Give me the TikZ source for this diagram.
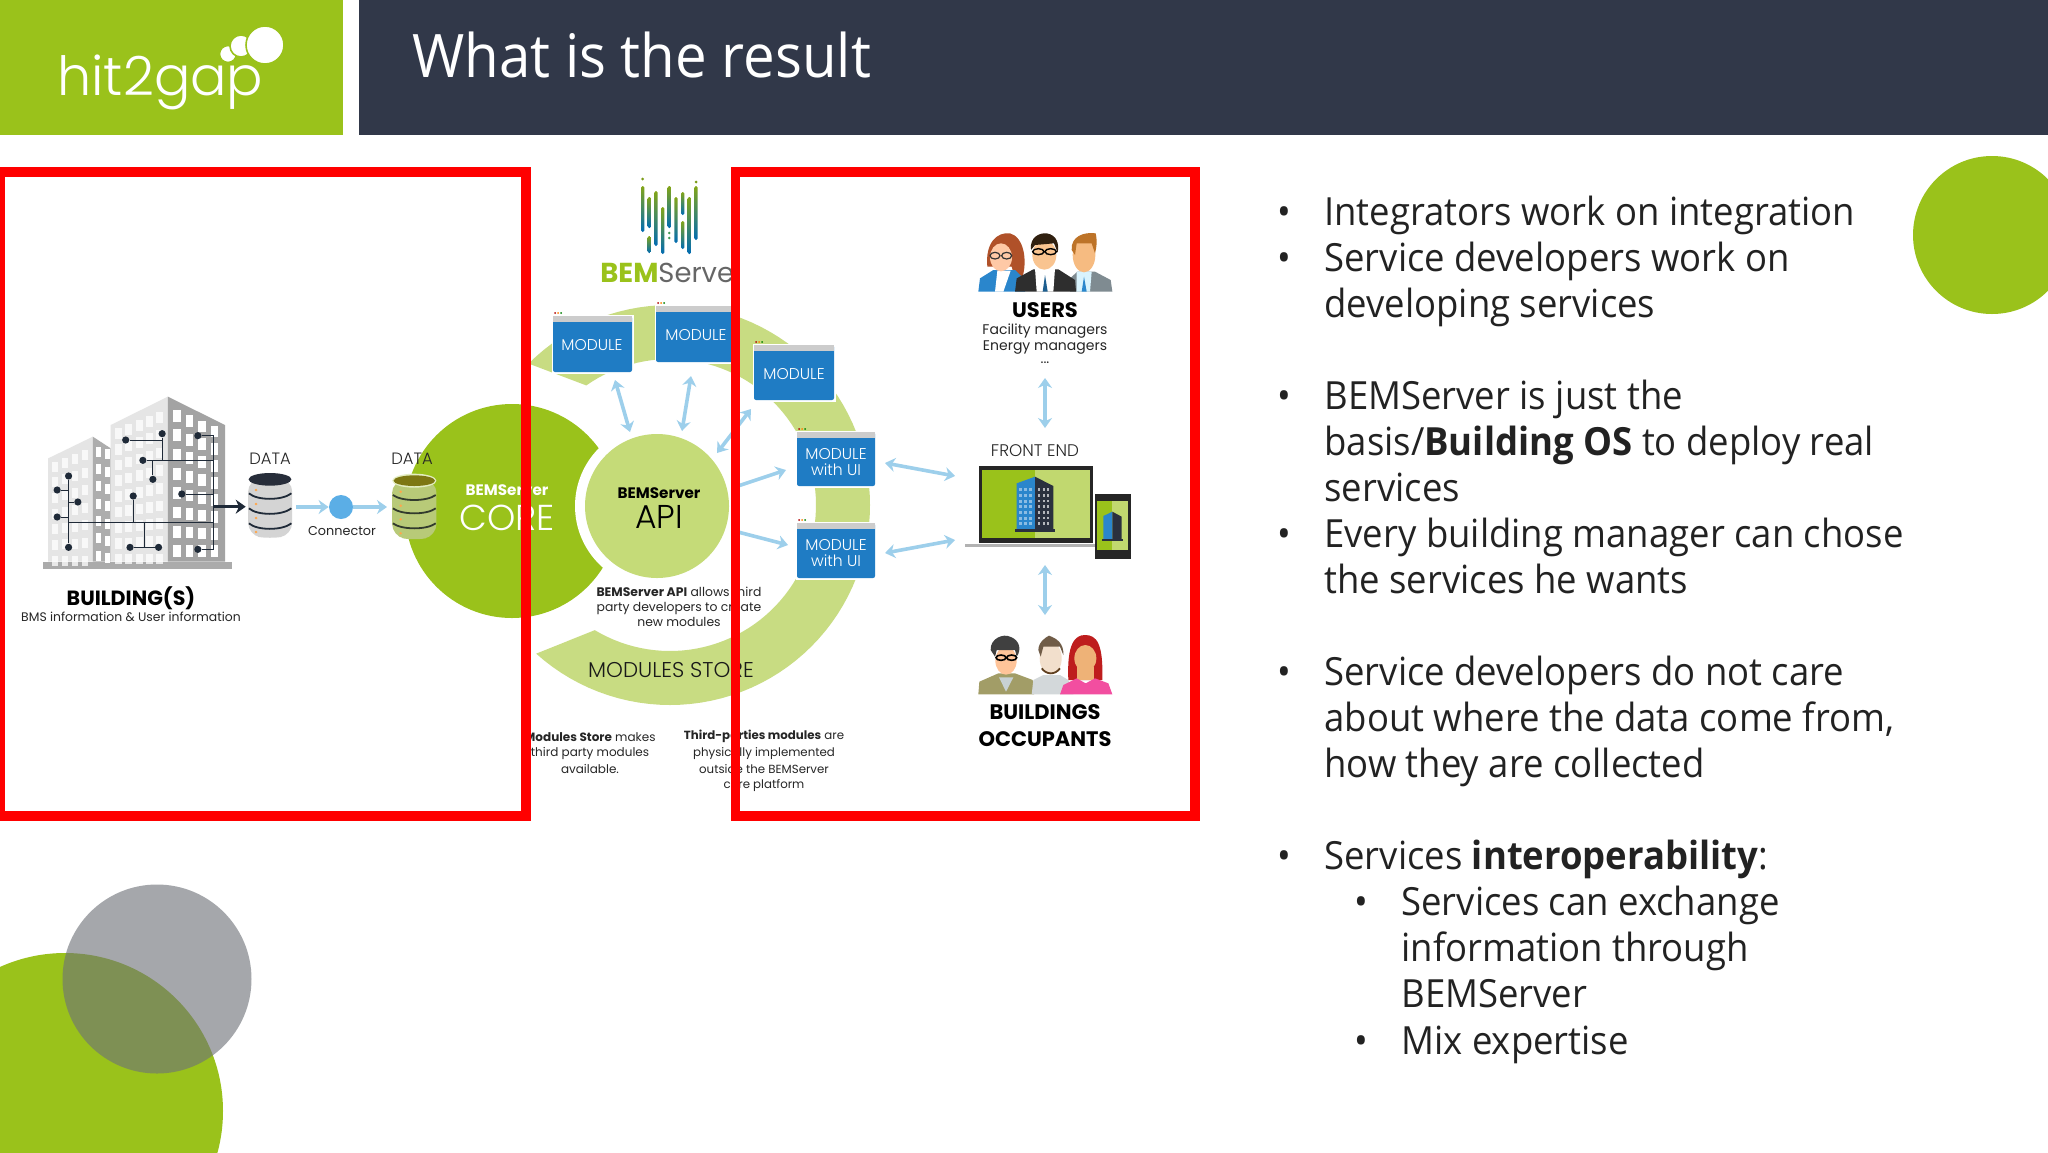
\documentclass[tikz,border=0pt]{standalone}
\usepackage{fontspec}
\usetikzlibrary{arrows.meta,shapes.geometric}
\setmainfont{Open Sans}
\newfontfamily\gothic{Poppins}
\newfontfamily\gothiclight{Poppins Light}
\newfontfamily\slidefont{Open Sans}[FakeStretch=0.94]
\definecolor{hgreen}{HTML}{9AC21B}
\definecolor{hdark}{HTML}{313849}
\definecolor{ringg}{HTML}{C8DC82}
\definecolor{apig}{HTML}{C5DB78}
\definecolor{modblue}{HTML}{1F7CC4}
\definecolor{arrowb}{HTML}{9DCFEB}
\definecolor{dotdark}{HTML}{1F2A38}
\definecolor{redbox}{HTML}{FF0000}
\definecolor{txt}{HTML}{222222}
\definecolor{greydisc}{HTML}{6E7278}
\definecolor{connblue}{HTML}{5BAEE6}
\definecolor{towerblue}{HTML}{2A86CC}
\newcommand{\fs}[1]{\fontsize{#1}{#1}\selectfont}
\tikzset{
  bodytext/.style={anchor=base west,inner sep=0pt,text=txt,font=\slidefont\fs{19.4}},
  bulletmark/.style={anchor=base,inner sep=0pt,text=txt,font=\slidefont\fs{19.4}},
  figtext/.style={inner sep=0pt,align=center,text=black!85,font=\gothic\fs{6.2}},
  modtext/.style={inner sep=0pt,align=center,text=white,font=\gothiclight\fs{7.8}},
  biarrow/.style={draw=arrowb,line width=1.8pt,{Stealth[length=5pt,width=7pt]}-{Stealth[length=5pt,width=7pt]}},
  onearrow/.style={draw=arrowb,line width=1.8pt,-{Stealth[length=5pt,width=7pt]}},
  cdot/.style={circle,fill=dotdark,inner sep=0pt,minimum size=3.6pt},
  cwire/.style={draw=dotdark,line width=0.45pt},
  redframe/.style={draw=redbox,line width=4.8pt,miter limit=10},
}
% module window: x0,y0,x1,y1
\newcommand{\modwin}[4]{%
  \fill[white] (#1-1.5,#2-1.5) rectangle (#3+1.5,#4+1.5);
  \fill[modblue,rounded corners=1pt] (#1,#2) rectangle (#3,#4);
  \fill[black!20] (#1,#2) rectangle (#3,#2+6);
  \fill[red!70!black] (#1+2,#2-3) circle[radius=1];
  \fill[orange] (#1+5,#2-3) circle[radius=1];
  \fill[green!50!black] (#1+8,#2-3) circle[radius=1];
}
% logo bar: x,y0,y1
\newcommand{\lbar}[3]{\shade[top color=hgreen!85!black,bottom color=cyan!60!blue!70!black,rounded corners=0.7pt] (#1-1.6,#2) rectangle (#1+1.6,#3);}
\begin{document}
\begin{tikzpicture}[x=0.5pt,y=-0.5pt]
\useasboundingbox (0,0) rectangle (2048,1152);
\clip (0,0) rectangle (2048,1152);
\fill[white] (0,0) rectangle (2048,1152);
% header
\fill[hgreen] (0,0) rectangle (343,135);
\fill[hdark] (359,0) rectangle (2048,135);
\node[anchor=base west,inner sep=0pt,text=white,font=\slidefont\fs{30}] (title) at (412,77) {What is the result};
% logo
\node[anchor=base west,inner sep=0pt,text=white,font=\gothiclight\fs{27}] (logo) at (57,95) {hit2gap};
\fill[white,draw=hgreen,line width=0.8pt] (228,54) circle[radius=8.5];
\fill[white,draw=hgreen,line width=0.8pt] (241,46) circle[radius=11];
\fill[white,draw=hgreen,line width=0.8pt] (265,45) circle[radius=19];
% decorative circles
\fill[hgreen] (1992,235) circle[radius=79];
\fill[hgreen] (65,1111) circle[radius=158];
\fill[greydisc,opacity=0.62] (157,979) circle[radius=94.5];
% core circle and ring
\fill[hgreen] (512,511) circle[radius=107];
\fill[ringg] plot[domain=-135:132,samples=90] ({670+200*cos(\x)},{505+200*sin(\x)}) -- plot[domain=121:-125,samples=90] ({670+146*cos(\x)},{505+146*sin(\x)}) -- cycle;
\fill[white] (657,506) circle[radius=82];
\fill[apig] (657,506) circle[radius=72];
% ===== building (zoom units)
\begin{scope}[shift={(0,360)},x=0.17857pt,y=-0.16667pt]
  \fill[black!33] (120,605) rectangle (650,628);
  \fill[black!10] (135,295) -- (260,230) -- (260,605) -- (135,605) -- cycle;
  \fill[black!32] (260,230) -- (310,265) -- (310,605) -- (260,605) -- cycle;
  \fill[black!10] (310,195) -- (470,110) -- (470,605) -- (310,605) -- cycle;
  \fill[black!36] (470,110) -- (630,195) -- (630,605) -- (470,605) -- cycle;
  \foreach \c in {0,...,3} \foreach \r in {0,...,7} {
    \pgfmathsetmacro\wx{485+\c*35}
    \pgfmathsetmacro\wy{150+\r*58+(\wx-485)*0.45*(1-\r/7)}
    \fill[white] (\wx,\wy) rectangle +(21,35);
  }
  \foreach \c in {0,...,4} \foreach \r in {0,...,8} {
    \pgfmathsetmacro\wx{322+\c*29}
    \pgfmathsetmacro\wy{205+\r*47-(\wx-322)*0.42*(1-\r/8)}
    \fill[white,opacity=0.75] (\wx,\wy) rectangle +(19,32);
  }
  \foreach \c in {0,...,3} \foreach \r in {0,...,6} {
    \pgfmathsetmacro\wx{145+\c*28}
    \pgfmathsetmacro\wy{305+\r*47-(\wx-145)*0.42*(1-\r/6)}
    \fill[white,opacity=0.75] (\wx,\wy) rectangle +(17,30);
  }
  \foreach \r in {0,...,6} {
    \pgfmathsetmacro\wy{260+\r*52}
    \fill[white] (270,\wy) rectangle +(14,30);
    \fill[white] (295,\wy+8) rectangle +(12,30);
  }
  % circuit
  \node[cdot] (d1) at (192,348) {};
  \node[cdot] (d2) at (160,390) {};
  \node[cdot] (d3) at (218,426) {};
  \node[cdot] (d4) at (160,471) {};
  \node[cdot] (d5) at (192,562) {};
  \node[cdot] (d6) at (352,240) {};
  \node[cdot] (d7) at (454,221) {};
  \node[cdot] (d8) at (554,227) {};
  \node[cdot] (d9) at (400,301) {};
  \node[cdot] (d10) at (428,358) {};
  \node[cdot] (d11) at (373,408) {};
  \node[cdot] (d12) at (509,402) {};
  \node[cdot] (d13) at (364,562) {};
  \node[cdot] (d14) at (444,562) {};
  \node[cdot] (d15) at (554,568) {};
  \coordinate (hubt) at (598,227);
  \coordinate (hubb) at (598,568);
  \coordinate (busl) at (192,486);
  \coordinate (busr) at (598,486);
  \draw[cwire] (d1) -- (d5);
  \draw[cwire] (d2) -- (192,390);
  \draw[cwire] (d3) -- (192,426);
  \draw[cwire] (d4) -- (192,471);
  \draw[cwire] (busl) -- (busr);
  \draw[cwire] (hubt) -- (hubb);
  \draw[cwire] (d8) -- (hubt);
  \draw[cwire] (d15) -- (hubb);
  \draw[cwire] (d12) -- (598,402);
  \draw[cwire] (d9) -- (598,301);
  \draw[cwire] (d10) -- (428,301);
  \draw[cwire] (d6) -- (454,240);
  \draw[cwire] (d7) -- (454,301);
  \draw[cwire] (d11) -- (373,486);
  \draw[cwire] (405,486) -- (405,562);
  \draw[cwire] (d13) -- (d14);
  \coordinate (barrowS) at (598,440);
  \coordinate (barrowE) at (688,440);
  \draw[draw=dotdark,line width=1.8pt,-{Stealth[length=5pt,width=7pt]}] (barrowS) -- (barrowE);
  % database 1
  \fill[black!17,rounded corners=6pt] (695,358) -- (695,525) -- (755,537) -- (818,525) -- (818,358) -- cycle;
  \fill[hdark!80!black] (756,358) ellipse[x radius=60,y radius=19];
  \foreach \yy in {400,445,490} \draw[dotdark,line width=0.9pt] (697,\yy) .. controls (720,\yy+22) and (790,\yy+22) .. (816,\yy);
  \foreach \yy in {390,432,474,516} \fill[orange!70] (717,\yy) circle[radius=4];
  % database 2
  \fill[ringg!92!black,rounded corners=6pt] (1098,362) -- (1098,528) -- (1160,542) -- (1222,528) -- (1222,362) -- cycle;
  \fill[ringg!50] (1160,362) ellipse[x radius=62,y radius=21];
  \fill[olive!85!black] (1160,362) ellipse[x radius=58,y radius=16];
  \foreach \yy in {405,445,490} \draw[dotdark!80!olive,line width=0.9pt] (1100,\yy) .. controls (1125,\yy+20) and (1195,\yy+20) .. (1220,\yy);
  \foreach \yy in {395,437,478,520} \fill[orange!70] (1122,\yy) circle[radius=4];
\end{scope}
% connector circle and arrows
\node[circle,fill=connblue,inner sep=0pt,minimum size=12pt] (conn) at (341,507) {};
\coordinate (cin) at (296,507);
\coordinate (cout) at (387,507);
\draw[onearrow] (cin) -- (conn);
\draw[onearrow] (conn) -- (cout);
\node[figtext,font=\gothic\fs{6.4}] (connl) at (342,531) {Connector};
\node[figtext,font=\gothiclight\fs{8.2}] (data1) at (270,459) {DATA};
\node[figtext,font=\gothiclight\fs{8.2}] (data2) at (412,459) {DATA};
\node[figtext,text=black,font=\gothic\bfseries\fs{10.3}] (bld) at (131,598) {BUILDING(S)};
\node[figtext,font=\gothic\fs{6.2}] (bms) at (131,617) {BMS information \& User information};
\node[figtext,text=white,font=\gothic\bfseries\fs{7.6}] (coret) at (507,490) {BEMServer};
\node[figtext,text=white,font=\gothiclight\fs{18}] (core) at (507,518) {CORE};
\node[figtext,text=black,font=\gothic\bfseries\fs{7.6}] (apit) at (659,493) {BEMServer};
\node[figtext,text=black,font=\gothiclight\fs{16.5}] (api) at (659,517) {API};
\node[figtext,font=\gothic\fs{6.2}] (apid) at (679,607) {\textbf{BEMServer API} allows third\\[1.2pt]party developers to create\\[1.2pt]new modules};
\node[figtext,text=black!90,font=\gothiclight\fs{10.7}] (store) at (671,670) {MODULES STORE};
\node[figtext,font=\gothic\fs{6}] (mstore) at (590,753) {\textbf{Modules Store} makes\\[1.6pt]third party modules\\[1.6pt]available.};
\node[figtext,font=\gothic\fs{5.9}] (third) at (764,761) {\textbf{Third-parties modules} are\\[1.5pt]physically implemented\\[1.5pt]outside the BEMServer\\[1.5pt]core platform};
% logo BEMServer
\lbar{642.7}{186}{232}\lbar{649.3}{197}{228}\lbar{649.3}{236}{253}
\lbar{656}{191}{246}\lbar{662.7}{207}{254}\lbar{669.3}{186}{228}
\fill[hgreen!60!cyan!70!black] (669.3,233) circle[radius=1.4] (669.3,238) circle[radius=1.4];
\lbar{676}{197}{243}\lbar{682.7}{192}{215}\lbar{682.7}{221}{249}
\lbar{689.3}{197}{254}\lbar{696}{186}{240}
\fill[hgreen!80!black] (642.7,179) circle[radius=1.5] (696,182) circle[radius=1.5];
\node[anchor=base west,inner sep=0pt,font=\gothic\fs{13.7}] (bemlogo) at (600,282) {\textcolor{hgreen}{\textbf{BEM}}\textcolor{black!60}{Serve}};
% modules
\modwin{553}{316}{632}{372}
\modwin{656}{306}{735}{362}
\modwin{754}{345}{834}{400}
\modwin{797}{432}{875}{486}
\modwin{797}{523}{875}{578}
\node[modtext] (m1) at (592,345) {MODULE};
\node[modtext] (m2) at (696,335) {MODULE};
\node[modtext] (m3) at (794,374) {MODULE};
\node[modtext] (m4) at (836,462) {MODULE\\with UI};
\node[modtext] (m5) at (836,553) {MODULE\\with UI};
% arrows
\coordinate (a1s) at (615,380); \coordinate (a1e) at (630,432);
\coordinate (a2s) at (691,376); \coordinate (a2e) at (682,431);
\coordinate (a3s) at (751,409); \coordinate (a3e) at (717,453);
\coordinate (a4s) at (738,486); \coordinate (a4e) at (786,470);
\coordinate (a5s) at (738,532); \coordinate (a5e) at (788,545);
\coordinate (a6s) at (885,463); \coordinate (a6e) at (955,476);
\coordinate (a7s) at (885,553); \coordinate (a7e) at (955,540);
\coordinate (a8s) at (1045,378); \coordinate (a8e) at (1045,428);
\coordinate (a9s) at (1045,565); \coordinate (a9e) at (1045,615);
\draw[biarrow] (a1s) -- (a1e);
\draw[biarrow] (a2s) -- (a2e);
\draw[biarrow] (a3s) -- (a3e);
\draw[onearrow] (a4s) -- (a4e);
\draw[onearrow] (a5s) -- (a5e);
\draw[biarrow] (a6s) -- (a6e);
\draw[biarrow] (a7s) -- (a7e);
\draw[biarrow] (a8s) -- (a8e);
\draw[biarrow] (a9s) -- (a9e);
% users + front end (zoom 4 units)
\begin{scope}[shift={(900,200)},x=0.16667pt,y=-0.16667pt]
  % woman
  \fill[brown!75!red!85!black] (262,200) .. controls (255,130) and (290,95) .. (330,100) .. controls (370,110) and (385,180) .. (365,240) -- (345,235) -- (335,200) -- cycle;
  \fill[towerblue] (235,275) -- (240,235) -- (280,210) -- (345,210) -- (375,240) -- (375,275) -- cycle;
  \fill[white] (285,275) -- (292,212) -- (332,212) -- (310,275) -- cycle;
  \fill[red!20!orange!35!white] (303,172) ellipse[x radius=33,y radius=42];
  \draw[black!80,line width=0.6pt] (285,167) ellipse[x radius=15,y radius=10] (320,167) ellipse[x radius=15,y radius=10];
  % right man
  \fill[black!45!cyan!25!gray] (510,275) -- (510,235) -- (532,215) -- (585,215) -- (632,240) -- (637,275) -- cycle;
  \fill[white!85!cyan] (530,275) -- (530,215) -- (575,215) -- (570,275) -- cycle;
  \fill[towerblue] (545,275) -- (552,230) -- (560,275) -- cycle;
  \fill[orange!45!white!85!brown] (552,165) ellipse[x radius=34,y radius=52];
  \fill[brown!70!orange!90!black] (515,150) .. controls (512,110) and (550,95) .. (587,100) .. controls (592,125) and (590,140) .. (585,160) -- (575,130) -- (530,130) -- (525,165) -- cycle;
  % middle man
  \fill[black!82] (345,275) -- (350,235) -- (400,208) -- (475,208) -- (525,240) -- (528,275) -- cycle;
  \fill[white] (410,275) -- (405,205) -- (465,205) -- (460,275) -- cycle;
  \fill[towerblue!70!black] (428,275) -- (435,225) -- (443,275) -- cycle;
  \fill[orange!40!white!90!brown] (433,165) ellipse[x radius=36,y radius=44];
  \fill[black!75!brown] (393,150) .. controls (388,110) and (420,98) .. (440,100) .. controls (470,105) and (478,130) .. (473,158) -- (462,130) -- (405,135) -- cycle;
  \draw[black,line width=0.7pt] (415,155) ellipse[x radius=17,y radius=9] (452,155) ellipse[x radius=17,y radius=9];
  % laptop
  \fill[black!85] (236,797) rectangle (578,1028);
  \fill[hgreen] (245,810) rectangle (405,1015);
  \fill[apig!90!hgreen] (405,810) rectangle (570,1015);
  \fill[black!30] (195,1033) rectangle (590,1041);
  % building on screen
  \fill[towerblue] (350,850) -- (405,830) -- (405,990) -- (350,990) -- cycle;
  \fill[hdark!85!black] (405,830) -- (460,858) -- (460,990) -- (405,990) -- cycle;
  \fill[hdark!85!black] (345,987) rectangle (465,995);
  \foreach \r in {0,...,6} \foreach \c in {0,1,2} {
    \fill[white,opacity=0.45] (358+\c*15,865+\r*17) rectangle +(8,9);
    \fill[white,opacity=0.65] (415+\c*13,865+\r*17) rectangle +(6,8);
  }
  % phone
  \fill[black!85] (585,882) rectangle (692,1077);
  \fill[hgreen] (592,903) rectangle (637,1050);
  \fill[apig!90!hgreen] (637,903) rectangle (685,1050);
  \fill[towerblue] (610,948) -- (637,935) -- (637,1018) -- (610,1018) -- cycle;
  \fill[hdark!85!black] (637,935) -- (665,950) -- (665,1018) -- (637,1018) -- cycle;
  \fill[hdark!85!black] (605,1017) rectangle (670,1022);
\end{scope}
\node[figtext,text=black,font=\gothic\bfseries\fs{10.5}] (users) at (1045,310) {USERS};
\node[figtext,font=\gothic\fs{7}] (fac) at (1045,331) {Facility managers};
\node[figtext,font=\gothic\fs{7}] (ene) at (1045,347) {Energy managers};
\node[figtext,font=\gothic\fs{7}] (dots) at (1045,363) {...};
\node[figtext,font=\gothiclight\fs{8.4}] (fe) at (1035,451) {FRONT END};
% occupants (zoom 6 units)
\begin{scope}[shift={(900,600)},x=0.16667pt,y=-0.16667pt]
  % man 1
  \fill[olive!60!black!60!white] (235,283) -- (238,245) -- (295,220) -- (345,220) -- (398,240) -- (402,283) -- cycle;
  \fill[cyan!25!black!25!white] (297,232) -- (340,232) -- (318,275) -- cycle;
  \fill[red!15!orange!40!white] (318,182) ellipse[x radius=32,y radius=42];
  \fill[black!75] (272,150) .. controls (270,115) and (310,100) .. (330,110) .. controls (360,120) and (365,150) .. (350,170) -- (345,150) -- (290,150) -- (285,170) -- cycle;
  \draw[black,line width=0.8pt] (303,173) ellipse[x radius=15,y radius=8] (335,173) ellipse[x radius=15,y radius=8];
  % man 2
  \fill[cyan!18!black!20!white] (395,283) -- (400,240) -- (430,225) -- (480,225) -- (505,240) -- (520,283) -- cycle;
  \fill[orange!20!brown!25!white] (452,175) ellipse[x radius=33,y radius=48];
  \fill[brown!40!black!80] (415,150) .. controls (415,125) and (440,110) .. (447,107) .. controls (470,115) and (492,130) .. (490,165) -- (480,140) -- (430,140) -- (422,170) -- cycle;
  \draw[brown!50!black,line width=0.9pt] (425,205) .. controls (440,225) and (465,225) .. (480,205);
  % woman
  \fill[red!70!black!85!pink] (505,240) .. controls (500,130) and (525,105) .. (555,105) .. controls (590,105) and (610,130) .. (607,240) -- cycle;
  \fill[orange!55!brown!60!white] (530,240) -- (530,200) -- (583,200) -- (583,240) -- cycle;
  \fill[orange!55!brown!60!white] (556,175) ellipse[x radius=33,y radius=40];
  \fill[magenta!60!pink] (480,283) -- (490,255) -- (530,235) -- (557,250) -- (585,235) -- (625,250) -- (637,283) -- cycle;
\end{scope}
\node[figtext,text=black,font=\gothic\bfseries\fs{10.5}] (occ1) at (1045,712) {BUILDINGS};
\node[figtext,text=black,font=\gothic\bfseries\fs{10.5}] (occ2) at (1045,739) {OCCUPANTS};
% red frames
\draw[redframe] (0,172) rectangle (526,816);
\draw[redframe] (735.5,172) rectangle (1195,816);
% right text
\node[bulletmark] (b1) at (1284,225) {•};
\node[bodytext] (l1) at (1324,225) {Integrators work on integration};
\node[bulletmark] (b2) at (1284,271) {•};
\node[bodytext] (l2) at (1324,271) {Service developers work on};
\node[bodytext] (l3) at (1324,317) {developing services};
\node[bulletmark] (b3) at (1284,409) {•};
\node[bodytext] (l4) at (1324,409) {BEMServer is just the};
\node[bodytext] (l5) at (1324,455) {basis/\textbf{Building OS} to deploy real};
\node[bodytext] (l6) at (1324,501) {services};
\node[bulletmark] (b4) at (1284,547) {•};
\node[bodytext] (l7) at (1324,547) {Every building manager can chose};
\node[bodytext] (l8) at (1324,593) {the services he wants};
\node[bulletmark] (b5) at (1284,685) {•};
\node[bodytext] (l9) at (1324,685) {Service developers do not care};
\node[bodytext] (l10) at (1324,731) {about where the data come from,};
\node[bodytext] (l11) at (1324,777) {how they are collected};
\node[bulletmark] (b6) at (1284,869) {•};
\node[bodytext] (l12) at (1324,869) {Services \textbf{interoperability}:};
\node[bulletmark] (b7) at (1361,915) {•};
\node[bodytext] (l13) at (1401,915) {Services can exchange};
\node[bodytext] (l14) at (1401,961) {information through};
\node[bodytext] (l15) at (1401,1007) {BEMServer};
\node[bulletmark] (b8) at (1361,1054) {•};
\node[bodytext] (l16) at (1401,1054) {Mix expertise};
\end{tikzpicture}
\end{document}
